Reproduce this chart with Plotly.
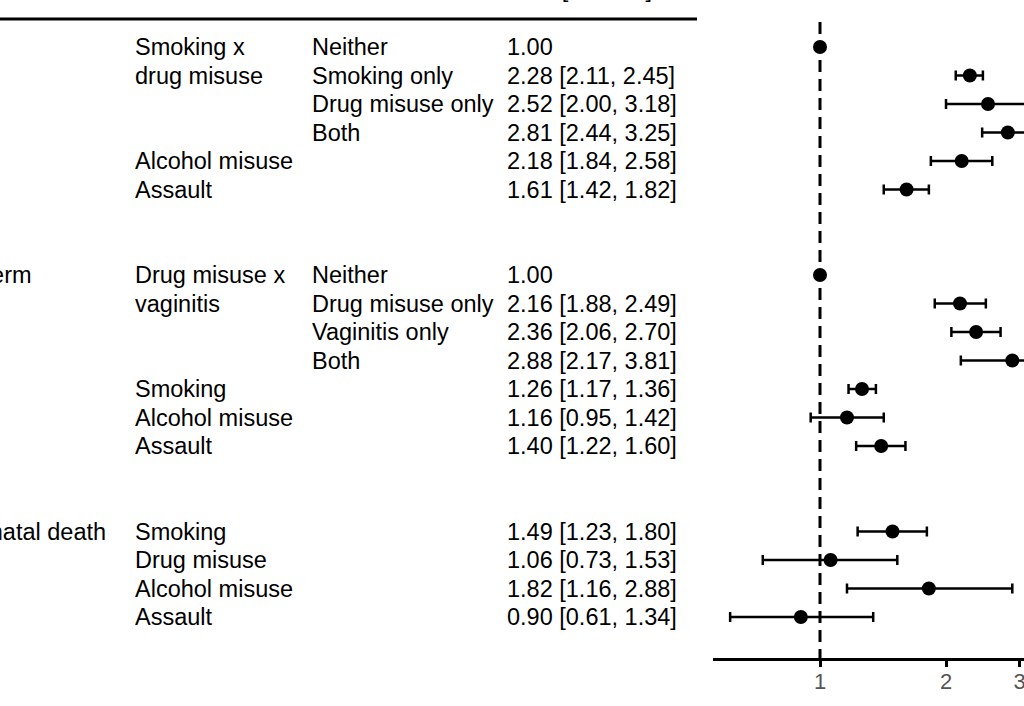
import math
import plotly.graph_objects as go

W, H = 1024, 706

# ---------------- data ----------------
# first outcome label lies entirely outside the cropped picture
outcomes = ["", "Preterm", "Perinatal death"]
headers = ["Outcome", "Risk", "aOR [95% CI]"]

risk = ["Smoking x", "drug misuse", "", "", "Alcohol misuse", "Assault",
        "Drug misuse x", "vaginitis", "", "", "Smoking", "Alcohol misuse", "Assault",
        "Smoking", "Drug misuse", "Alcohol misuse", "Assault"]
level = ["Neither", "Smoking only", "Drug misuse only", "Both", "", "",
         "Neither", "Drug misuse only", "Vaginitis only", "Both", "", "", "",
         "", "", "", ""]
aor = [1.00, 2.28, 2.52, 2.81, 2.18, 1.61,
       1.00, 2.16, 2.36, 2.88, 1.26, 1.16, 1.40,
       1.49, 1.06, 1.82, 0.90]
lo = [None, 2.11, 2.00, 2.44, 1.84, 1.42,
      None, 1.88, 2.06, 2.17, 1.17, 0.95, 1.22,
      1.23, 0.73, 1.16, 0.61]
hi = [None, 2.45, 3.18, 3.25, 2.58, 1.82,
      None, 2.49, 2.70, 3.81, 1.36, 1.42, 1.60,
      1.80, 1.53, 2.88, 1.34]
group = [0] * 6 + [1] * 7 + [2] * 4
tick_vals = [1, 2, 3]

# ---------------- layout helpers ----------------
GAP = 2  # blank rows between outcome groups
rows = [i + GAP * g for i, g in enumerate(group)]
first_row = {}
for r, g in zip(rows, group):
    first_row.setdefault(g, r)

def px_x(p):
    return p / W

def px_y(p):
    return (H - p) / H

ROW0, STEP = 47.0, 28.5
AX_Y, TOP_Y = 658.0, 22.0
y_bottom = (AX_Y - ROW0) / STEP
y_top = (TOP_Y - ROW0) / STEP

err_plus = [None if h is None else h - a for a, h in zip(aor, hi)]
err_minus = [None if l is None else a - l for a, l in zip(aor, lo)]

labels = []
for a, l, h in zip(aor, lo, hi):
    labels.append(f"{a:.2f}" if l is None else f"{a:.2f} [{l:.2f}, {h:.2f}]")

fig = go.Figure()
fig.add_trace(go.Scatter(
    x=aor, y=rows, mode="markers",
    marker=dict(symbol="circle", size=14, color="black"),
    error_x=dict(type="data", symmetric=False, array=err_plus, arrayminus=err_minus,
                 color="black", thickness=2.5, width=5),
    showlegend=False, hoverinfo="skip",
))

FONT = dict(family="Liberation Sans, Arial, sans-serif", size=23.5, color="black")
ann = []
def add_text(xpix, y, txt, yref="y"):
    ann.append(dict(x=px_x(xpix), y=y, xref="paper", yref=yref, text=txt,
                    showarrow=False, xanchor="left", yanchor="middle", font=FONT))

for g, name in enumerate(outcomes):
    if name:
        add_text(-54, first_row[g], name)
for r, t in zip(rows, risk):
    if t:
        add_text(133, r, t)
for r, t in zip(rows, level):
    if t:
        add_text(310, r, t)
for r, t in zip(rows, labels):
    add_text(505, r, t)

# header row (mostly cropped at the top edge)
for xpix, t in zip([-54, 133, 505], headers):
    add_text(xpix, px_y(-11), t, yref="paper")

shapes = [
    dict(type="line", xref="paper", yref="paper", x0=0, x1=px_x(697),
         y0=px_y(19), y1=px_y(19), line=dict(color="black", width=3)),
    dict(type="line", xref="x", yref="y", x0=1, x1=1, y0=y_top, y1=y_bottom,
         line=dict(color="black", width=3, dash="12px,7px"), layer="below"),
]

x_lo = 10 ** ((713 - 820) / 418.6)
x_hi = 10 ** ((1024 - 820) / 418.6)

fig.update_layout(
    width=W, height=H,
    margin=dict(l=0, r=0, t=0, b=0, autoexpand=False),
    paper_bgcolor="white", plot_bgcolor="white",
    annotations=ann, shapes=shapes,
    xaxis=dict(type="log", domain=[px_x(713), 1.0], range=[math.log10(x_lo), math.log10(x_hi)],
               tickvals=tick_vals, ticktext=[str(v) for v in tick_vals],
               ticklabeloverflow="allow", automargin=False, ticklabelstandoff=-4,
               showline=True, linecolor="black", linewidth=2.5,
               ticks="outside", ticklen=6, tickwidth=2.5, tickcolor="black",
               showgrid=False, zeroline=False,
               tickfont=dict(family="Liberation Sans, Arial, sans-serif", size=22, color="#555555")),
    yaxis=dict(domain=[px_y(AX_Y), px_y(TOP_Y)], range=[y_bottom, y_top], automargin=False,
               showline=False, showticklabels=False, ticks="", showgrid=False, zeroline=False),
)

fig.write_html("out.html")
